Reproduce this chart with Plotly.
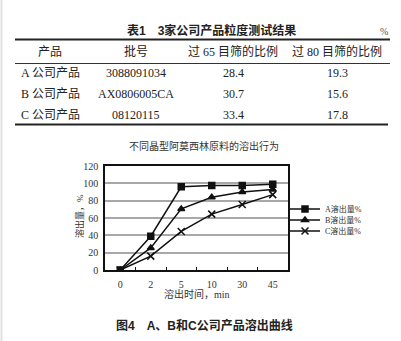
import plotly.graph_objects as go

# ---- table data ----
table_title = "表1　3家公司产品粒度测试结果"
table_unit = "%"
headers = ["产品", "批号", "过 65 目筛的比例", "过 80 目筛的比例"]
products = ["A 公司产品", "B 公司产品", "C 公司产品"]
batches = ["3088091034", "AX0806005CA", "08120115"]
pass65 = ["28.4", "30.7", "33.4"]
pass80 = ["19.3", "15.6", "17.8"]

# ---- chart data ----
chart_title = "不同晶型阿莫西林原料的溶出行为"
y_title = "溶出量，%"
x_title = "溶出时间，min"
times = ["0", "2", "5", "10", "30", "45"]
series_names = ["A溶出量%", "B溶出量%", "C溶出量%"]
A_vals = [0, 39, 96, 97.5, 97.5, 99]
B_vals = [0, 25.5, 70.5, 84, 90, 93]
C_vals = [0, 16, 44.5, 64.5, 75.5, 87]
caption = "图4　A、B和C公司产品溶出曲线"

W, H = 401, 341
L, R, T, B = 105, 288, 166, 270


def px(x):
    return (x - L) / (R - L)


def py(y):
    return (B - y) / (B - T)


serif = "Liberation Serif, Noto Sans CJK SC"
sans = "Liberation Sans, Noto Sans CJK SC"

fig = go.Figure()
symbols = ["square", "triangle-up", "x-thin"]
legend_ids = ["legend", "legend2", "legend3"]
for name, vals, sym, lg in zip(series_names, [A_vals, B_vals, C_vals], symbols, legend_ids):
    fig.add_trace(go.Scatter(
        x=times, y=vals, name=name, mode="lines+markers", legend=lg,
        line=dict(color="#111", width=1.5),
        marker=dict(symbol=sym, size=6 if sym != "x-thin" else 7, color="#111",
                    line=dict(color="#111", width=1.5)),
    ))

ann = []
shapes = []

# table title
ann.append(dict(text="<b>" + table_title + "</b>", x=px(211), y=py(30), xref="paper", yref="paper",
                showarrow=False, font=dict(family=sans, size=12, color="#222"), xanchor="center", yanchor="middle"))
ann.append(dict(text=table_unit, x=px(390), y=py(31), xref="paper", yref="paper",
                showarrow=False, font=dict(family=serif, size=10, color="#555"), xanchor="right", yanchor="middle"))

col_x = [50, 136, 233, 337]
row_y = [52, 73, 94, 115]
for cx, h in zip(col_x, headers):
    ann.append(dict(text=h, x=px(cx), y=py(row_y[0]), xref="paper", yref="paper", showarrow=False,
                    font=dict(family=serif, size=12, color="#222"), xanchor="center", yanchor="middle"))
for i in range(3):
    for cx, col in zip(col_x, [products, batches, pass65, pass80]):
        ann.append(dict(text=col[i], x=px(cx), y=py(row_y[i + 1]), xref="paper", yref="paper", showarrow=False,
                        font=dict(family=serif, size=12, color="#222"), xanchor="center", yanchor="middle"))

# table rules
shapes.append(dict(type="line", xref="paper", yref="paper", x0=px(15), x1=px(390), y0=py(39.5), y1=py(39.5),
                   line=dict(color="#222", width=2)))
shapes.append(dict(type="line", xref="paper", yref="paper", x0=px(15), x1=px(390), y0=py(63.5), y1=py(63.5),
                   line=dict(color="#333", width=1)))
shapes.append(dict(type="line", xref="paper", yref="paper", x0=px(15), x1=px(388), y0=py(124.5), y1=py(124.5),
                   line=dict(color="#222", width=2)))
# faint page edge
shapes.append(dict(type="line", xref="paper", yref="paper", x0=px(1.5), x1=px(1.5), y0=py(0), y1=py(341),
                   line=dict(color="#e2e2e2", width=2)))

# chart title
ann.append(dict(text=chart_title, x=px(204), y=py(146), xref="paper", yref="paper", showarrow=False,
                font=dict(family=serif, size=10, color="#333"), xanchor="center", yanchor="middle"))
# y title
ann.append(dict(text=y_title, x=px(79), y=py(216), xref="paper", yref="paper", showarrow=False,
                textangle=-90, font=dict(family=serif, size=9, color="#333"), xanchor="center", yanchor="middle"))
# x title
ann.append(dict(text=x_title, x=px(197), y=py(294), xref="paper", yref="paper", showarrow=False,
                font=dict(family=serif, size=10, color="#333"), xanchor="center", yanchor="middle"))
# caption
ann.append(dict(text="<b>" + caption + "</b>", x=px(204), y=py(325), xref="paper", yref="paper", showarrow=False,
                font=dict(family=sans, size=12, color="#222"), xanchor="center", yanchor="middle"))

leg_common = dict(xanchor="left", yanchor="middle", font=dict(family=serif, size=8, color="#333"),
                  bgcolor="rgba(0,0,0,0)", itemwidth=30, borderwidth=0)
legend_rows = [209, 220, 231]

fig.update_layout(
    width=W, height=H,
    margin=dict(l=L, r=W - R, t=T, b=H - B),
    paper_bgcolor="white", plot_bgcolor="white",
    showlegend=True,
    legend=dict(x=px(285), y=py(legend_rows[0]), **leg_common),
    legend2=dict(x=px(285), y=py(legend_rows[1]), **leg_common),
    legend3=dict(x=px(285), y=py(legend_rows[2]), **leg_common),
    annotations=ann, shapes=shapes,
)
fig.update_xaxes(type="category", range=[-0.5, 5.5], showline=True, linecolor="#111", linewidth=1.5,
                 mirror=True, ticks="inside", tickson="boundaries", ticklen=3, tickcolor="#111",
                 showgrid=False, ticklabelstandoff=4,
                 tickfont=dict(family=serif, size=10, color="#333"))
fig.update_yaxes(range=[0, 120], dtick=20, showline=True, linecolor="#111", linewidth=1.5, mirror=True,
                 ticks="", ticklabelstandoff=3, showgrid=True, gridcolor="#a8a8a8", gridwidth=2,
                 zeroline=False, tickfont=dict(family=serif, size=10, color="#333"))

fig.write_html("out.html")
